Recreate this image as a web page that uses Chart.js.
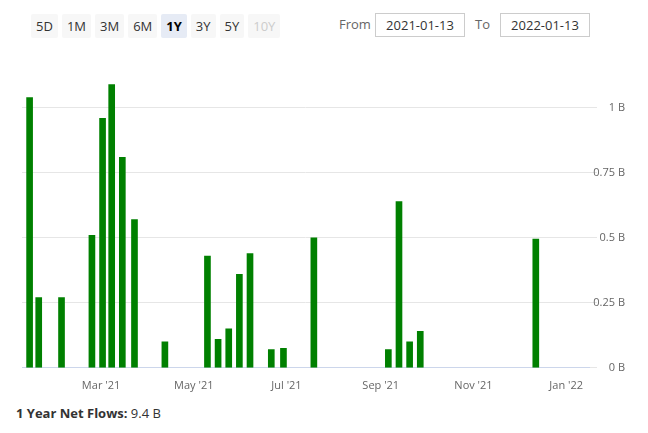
<!DOCTYPE html>
<html><head><meta charset="utf-8">
<script src="https://cdn.jsdelivr.net/npm/chart.js@4"></script>
<style>
body{margin:0;width:648px;height:433px;font-family:"Open Sans",sans-serif;background:#fff;position:relative;overflow:hidden}
.btns{position:absolute;left:31px;top:14px;display:flex;gap:4px}
.btns span{font-size:13px;color:#333;padding:3px 5px;background:#f7f7f7;border-radius:2px}
.btns span.on{background:#e6ebf5;font-weight:bold;color:#000}
.btns span.off{color:#ccc}
.lab{position:absolute;top:15px;font-size:13px;color:#666}
.inp{position:absolute;top:13px;border:1px solid #ccc;font-size:13px;color:#333;padding:2px 6px;width:76px;text-align:center}
#wrap{position:absolute;left:0;top:40px;width:648px;height:355px}
.foot{position:absolute;left:16px;top:404px;font-size:13px;color:#333}
</style></head><body>
<div class="btns"><span>5D</span><span>1M</span><span>3M</span><span>6M</span><span class="on">1Y</span><span>3Y</span><span>5Y</span><span class="off">10Y</span></div>
<div class="lab" style="left:339px">From</div><div class="inp" style="left:375px">2021-01-13</div>
<div class="lab" style="left:475px">To</div><div class="inp" style="left:500px">2022-01-13</div>
<div id="wrap"><canvas id="c"></canvas></div>
<div class="foot"><b>1 Year Net Flows:</b> 9.4 B</div>
<script>
const dates=["2021-01-13","2021-01-19","2021-02-03","2021-02-23","2021-03-02","2021-03-08","2021-03-15","2021-03-23","2021-04-12","2021-05-10","2021-05-17","2021-05-24","2021-05-31","2021-06-07","2021-06-21","2021-06-29","2021-07-19","2021-09-06","2021-09-13","2021-09-20","2021-09-27","2021-12-12"];
const flows=[1.04,0.27,0.27,0.51,0.96,1.09,0.81,0.57,0.10,0.43,0.11,0.15,0.36,0.44,0.07,0.075,0.50,0.07,0.64,0.10,0.14,0.495];
const tickDates=["2021-03-01","2021-05-01","2021-07-01","2021-09-01","2021-11-01","2022-01-01"];
const tickLabels=["Mar '21","May '21","Jul '21","Sep '21","Nov '21","Jan '22"];
const day=s=>(Date.parse(s)-Date.UTC(2021,0,1))/864e5;
const tickDays=tickDates.map(day);
new Chart(document.getElementById('c'),{type:'bar',
data:{datasets:[{data:dates.map((d,i)=>({x:day(d),y:flows[i]})),backgroundColor:'#008000',barThickness:6}]},
options:{responsive:true,maintainAspectRatio:false,animation:false,
layout:{padding:{left:22,right:23,top:16}},
plugins:{legend:{display:false},tooltip:{enabled:false}},
scales:{
x:{type:'linear',min:7,max:380,offset:false,grid:{display:false},border:{color:'#ccd6eb'},
afterBuildTicks:a=>{a.ticks=tickDays.map(v=>({value:v}));},
ticks:{autoSkip:false,maxRotation:0,color:'#666',font:{size:11,family:'Open Sans'},callback:(v)=>tickLabels[tickDays.indexOf(v)]}},
y:{position:'right',min:0,max:1.2,grid:{color:'#e6e6e6'},border:{display:false},
afterFit:a=>{a.width=36;},
afterBuildTicks:a=>{a.ticks=[0,0.25,0.5,0.75,1].map(v=>({value:v}));},
ticks:{color:'#666',font:{size:11,family:'Open Sans'},padding:2,crossAlign:'far',callback:v=>v+' B'}}}}});
</script></body></html>
